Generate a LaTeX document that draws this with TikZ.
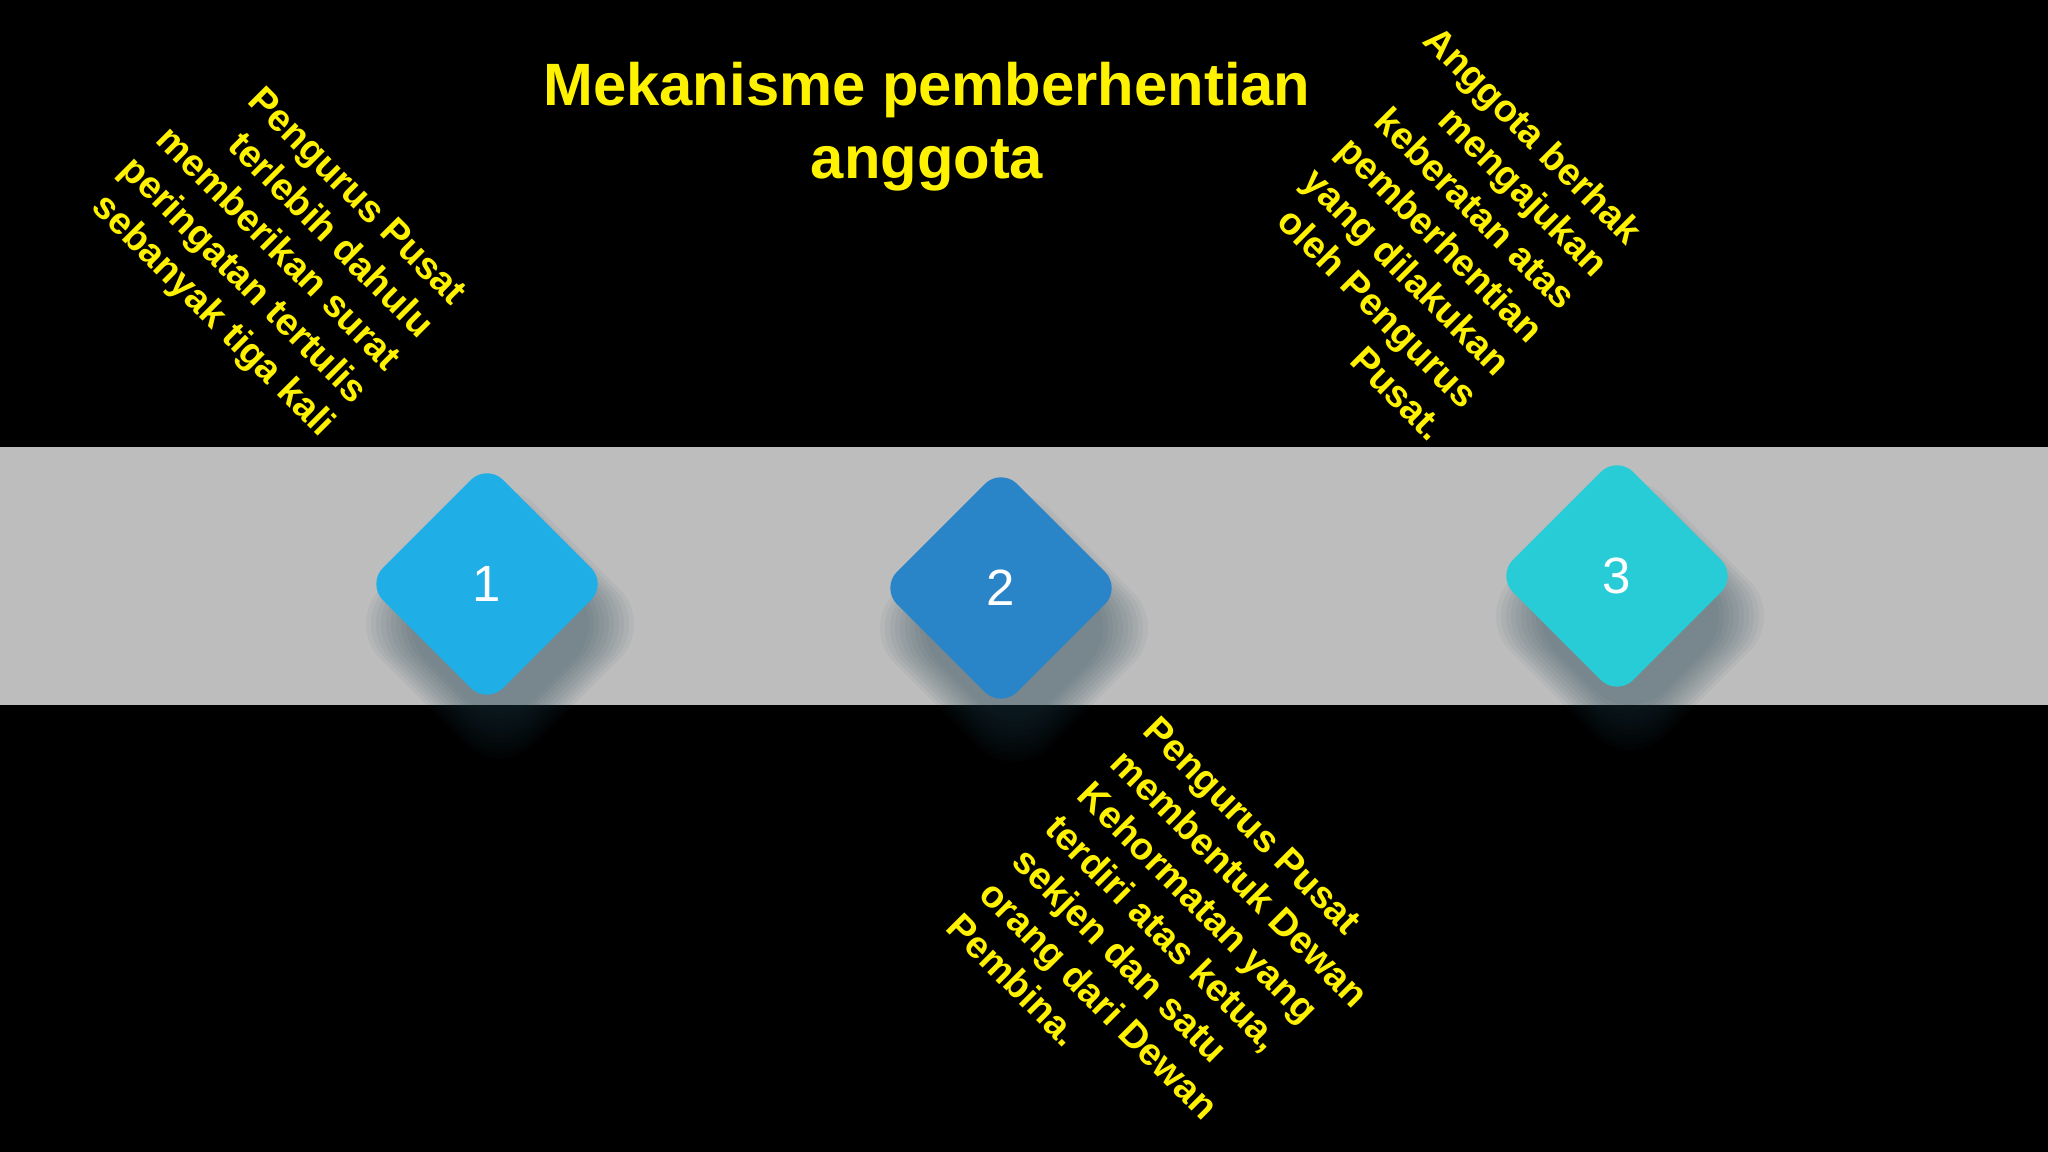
\documentclass[tikz,border=0pt]{standalone}
\usepackage{fontspec}
\setmainfont{Liberation Sans}
\usetikzlibrary{shapes.geometric}

\definecolor{bandgray}{RGB}{189,189,189}
\definecolor{boxone}{RGB}{31,174,229}
\definecolor{boxtwo}{RGB}{42,133,200}
\definecolor{boxthree}{RGB}{39,204,215}
\definecolor{shadowcol}{RGB}{30,65,80}

\tikzset{
  numbox/.style={diamond, aspect=1, minimum size=2.41cm, inner sep=0pt,
    rounded corners=0.23cm, text=white, font=\fontsize{14.5}{17}\selectfont},
  blurbox/.style={diamond, aspect=1, inner sep=0pt, rounded corners=0.5cm,
    fill=shadowcol, fill opacity=0.05},
  notetext/.style={text=yellow, rotate=-45, inner sep=0pt,
    font=\bfseries\fontsize{10.8}{13.2}\selectfont},
  titletext/.style={text=yellow, align=center, inner sep=0pt,
    font=\bfseries\fontsize{17}{20.8}\selectfont}
}

\begin{document}
\begin{tikzpicture}
% black page
\fill[black] (0,0) rectangle (20.48,11.52);
\useasboundingbox (0,0) rectangle (20.48,11.52);
% draw gray band
\fill[bandgray] (0,4.47) rectangle (20.48,7.05);

% draw soft shadows under the boxes
\foreach \x/\y/\n in {5.00/5.28/a, 10.14/5.24/b, 16.30/5.36/c}
  \foreach \k in {1,...,10}
    \node[blurbox, minimum size={(2.1+0.1*\k)*1cm}] (shadow-\n\k) at (\x,\y) {};

% draw numbered boxes
\node[numbox, fill=boxone] (box1) at (4.87,5.68) {1};
\node[numbox, fill=boxtwo] (box2) at (10.01,5.64) {2};
\node[numbox, fill=boxthree] (box3) at (16.17,5.76) {3};

% title
\node[titletext] (title) at (9.27,10.255) {Mekanisme pemberhentian\\anggota};

% rotated notes
\node[notetext, align=right] (note1) at (2.75,9.03)
  {Pengurus Pusat\\terlebih dahulu\\memberikan surat\\peringatan tertulis\\sebanyak tiga kali};
\node[notetext, align=left] (note2) at (11.745,2.08)
  {Pengurus Pusat\\membentuk Dewan\\Kehormatan yang\\terdiri atas ketua,\\sekjen dan satu\\orang dari Dewan\\Pembina.};
\node[notetext, align=right] (note3) at (14.35,9.19)
  {Anggota berhak\\mengajukan\\keberatan atas\\pemberhentian\\yang dilakukan\\oleh Pengurus\\Pusat.};
\end{tikzpicture}
\end{document}
